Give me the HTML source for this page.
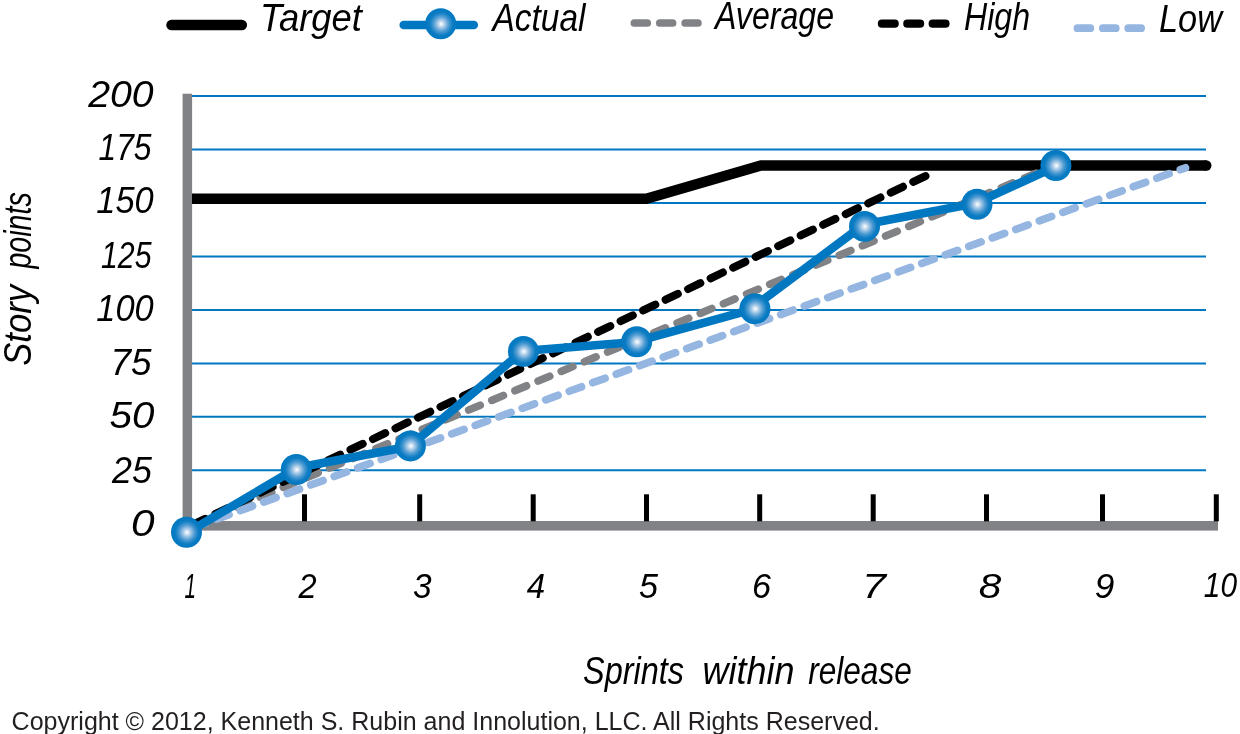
<!DOCTYPE html>
<html lang="en">
<head>
<meta charset="utf-8">
<title>Release burnup chart</title>
<style>
html,body{margin:0;padding:0;background:#fff;}
body{width:1240px;height:734px;overflow:hidden;}
svg{display:block;}
</style>
</head>
<body>
<svg width="1240" height="734" viewBox="0 0 1240 734">
<defs>
<radialGradient id="ball" cx="51.5%" cy="50.5%" r="50%">
<stop offset="0" stop-color="#ffffff"/>
<stop offset="0.05" stop-color="#eef5fb"/>
<stop offset="0.25" stop-color="#a5c8e7"/>
<stop offset="0.5" stop-color="#4c9ad2"/>
<stop offset="0.75" stop-color="#0c7cc3"/>
<stop offset="1" stop-color="#0078c1"/>
</radialGradient>
</defs>
<rect width="1240" height="734" fill="#ffffff"/>

<g stroke="#0078c1" stroke-width="2.05">
<line x1="190" y1="96.0" x2="1206" y2="96.0"/>
<line x1="190" y1="149.5" x2="1206" y2="149.5"/>
<line x1="190" y1="202.9" x2="1206" y2="202.9"/>
<line x1="190" y1="256.4" x2="1206" y2="256.4"/>
<line x1="190" y1="309.9" x2="1206" y2="309.9"/>
<line x1="190" y1="363.4" x2="1206" y2="363.4"/>
<line x1="190" y1="416.8" x2="1206" y2="416.8"/>
<line x1="190" y1="470.3" x2="1206" y2="470.3"/>
</g>
<rect x="182.6" y="93.7" width="9.5" height="436.9" fill="#808285"/>
<rect x="182.6" y="521" width="1035.4" height="9.6" fill="#808285"/>
<g fill="#000">
<rect x="302.0" y="494.3" width="5" height="27"/>
<rect x="417.2" y="494.3" width="5" height="27"/>
<rect x="530.7" y="494.3" width="5" height="27"/>
<rect x="644.0" y="494.3" width="5" height="27"/>
<rect x="757.2" y="494.3" width="5" height="27"/>
<rect x="870.7" y="494.3" width="5" height="27"/>
<rect x="984.0" y="494.3" width="5" height="27"/>
<rect x="1100.0" y="494.3" width="5" height="27"/>
<rect x="1213.8" y="494.3" width="5" height="27"/>
</g>
<polyline points="192,198.7 646.3,198.7 761,165.5 1206.3,165.5" fill="none" stroke="#000" stroke-width="10.4" stroke-linejoin="miter"/>
<circle cx="1206.3" cy="165.5" r="5.2" fill="#000"/>
<line x1="190.7" y1="526.0" x2="1052.0" y2="166.6" stroke="#808285" stroke-width="7.7" stroke-linecap="round" stroke-dasharray="12.5 12.6" stroke-dashoffset="0"/>
<line x1="192.9" y1="524.7" x2="925.8" y2="175.9" stroke="#000" stroke-width="8.0" stroke-linecap="round" stroke-dasharray="13.5 11.43" stroke-dashoffset="0"/>
<line x1="193.2" y1="527.6" x2="1185.5" y2="167.8" stroke="#94b6e1" stroke-width="7.7" stroke-linecap="round" stroke-dasharray="13.1 11.9" stroke-dashoffset="0"/>
<polyline points="186.7,533.0 297.4,467.7 409.4,446.5 522.8,351.0 632.9,342.3 748.9,310.4 863.9,224.5 975.7,203.2 1056.1,166.4" fill="none" stroke="#0078c1" stroke-width="8.6" stroke-linejoin="round"/>
<circle cx="186.5" cy="532.3" r="15.5" fill="url(#ball)"/>
<circle cx="296.3" cy="469.5" r="15.5" fill="url(#ball)"/>
<circle cx="410.4" cy="445.9" r="15.5" fill="url(#ball)"/>
<circle cx="523.4" cy="351.4" r="15.5" fill="url(#ball)"/>
<circle cx="636.7" cy="341.8" r="15.5" fill="url(#ball)"/>
<circle cx="754.9" cy="308.7" r="15.5" fill="url(#ball)"/>
<circle cx="864.5" cy="226.4" r="15.5" fill="url(#ball)"/>
<circle cx="977.0" cy="204.2" r="15.5" fill="url(#ball)"/>
<circle cx="1055.9" cy="165.5" r="15.5" fill="url(#ball)"/>
<line x1="171.5" y1="25" x2="241.8" y2="25" stroke="#000" stroke-width="10.5" stroke-linecap="round"/>
<line x1="403.7" y1="25.1" x2="473.8" y2="25.1" stroke="#0078c1" stroke-width="8.5" stroke-linecap="round"/>
<circle cx="440.7" cy="23.8" r="15.5" fill="url(#ball)"/>
<line x1="634.4" y1="23.0" x2="697.9" y2="23.0" stroke="#808285" stroke-width="7.7" stroke-linecap="round" stroke-dasharray="12.8 12.6"/>
<line x1="881.9" y1="23.7" x2="945.5" y2="23.7" stroke="#000" stroke-width="8.2" stroke-linecap="round" stroke-dasharray="12.8 12.6"/>
<line x1="1077.5" y1="28.2" x2="1141.1" y2="28.2" stroke="#94b6e1" stroke-width="7.8" stroke-linecap="round" stroke-dasharray="12.8 12.6"/>
<text x="260.0" y="31.3" font-size="38.5" font-family="'Liberation Sans', 'DejaVu Sans', sans-serif" font-style="italic" text-anchor="start" textLength="102.0" lengthAdjust="spacingAndGlyphs" fill="#000">Target</text>
<text x="492.5" y="30.5" font-size="38.5" font-family="'Liberation Sans', 'DejaVu Sans', sans-serif" font-style="italic" text-anchor="start" textLength="93.0" lengthAdjust="spacingAndGlyphs" fill="#000">Actual</text>
<text x="715.0" y="28.8" font-size="38.5" font-family="'Liberation Sans', 'DejaVu Sans', sans-serif" font-style="italic" text-anchor="start" textLength="119.0" lengthAdjust="spacingAndGlyphs" fill="#000">Average</text>
<text x="964.0" y="29.7" font-size="38.0" font-family="'Liberation Sans', 'DejaVu Sans', sans-serif" font-style="italic" text-anchor="start" textLength="66.0" lengthAdjust="spacingAndGlyphs" fill="#000">High</text>
<text x="1159.0" y="32.2" font-size="38.0" font-family="'Liberation Sans', 'DejaVu Sans', sans-serif" font-style="italic" text-anchor="start" textLength="63.0" lengthAdjust="spacingAndGlyphs" fill="#000">Low</text>
<text x="88.2" y="107.0" font-size="36.0" font-family="'Liberation Sans', 'DejaVu Sans', sans-serif" font-style="italic" text-anchor="start" textLength="65.5" lengthAdjust="spacingAndGlyphs" fill="#000">200</text>
<text x="98.5" y="160.0" font-size="36.0" font-family="'Liberation Sans', 'DejaVu Sans', sans-serif" font-style="italic" text-anchor="start" textLength="53.0" lengthAdjust="spacingAndGlyphs" fill="#000">175</text>
<text x="96.3" y="212.6" font-size="36.0" font-family="'Liberation Sans', 'DejaVu Sans', sans-serif" font-style="italic" text-anchor="start" textLength="57.4" lengthAdjust="spacingAndGlyphs" fill="#000">150</text>
<text x="101.0" y="267.7" font-size="36.0" font-family="'Liberation Sans', 'DejaVu Sans', sans-serif" font-style="italic" text-anchor="start" textLength="50.5" lengthAdjust="spacingAndGlyphs" fill="#000">125</text>
<text x="96.3" y="321.2" font-size="36.0" font-family="'Liberation Sans', 'DejaVu Sans', sans-serif" font-style="italic" text-anchor="start" textLength="57.4" lengthAdjust="spacingAndGlyphs" fill="#000">100</text>
<text x="110.5" y="374.9" font-size="36.0" font-family="'Liberation Sans', 'DejaVu Sans', sans-serif" font-style="italic" text-anchor="start" textLength="41.0" lengthAdjust="spacingAndGlyphs" fill="#000">75</text>
<text x="109.6" y="428.2" font-size="36.0" font-family="'Liberation Sans', 'DejaVu Sans', sans-serif" font-style="italic" text-anchor="start" textLength="44.8" lengthAdjust="spacingAndGlyphs" fill="#000">50</text>
<text x="112.0" y="483.3" font-size="36.0" font-family="'Liberation Sans', 'DejaVu Sans', sans-serif" font-style="italic" text-anchor="start" textLength="39.8" lengthAdjust="spacingAndGlyphs" fill="#000">25</text>
<text x="131.0" y="535.5" font-size="36.0" font-family="'Liberation Sans', 'DejaVu Sans', sans-serif" font-style="italic" text-anchor="start" textLength="23.6" lengthAdjust="spacingAndGlyphs" fill="#000">0</text>
<text x="184.5" y="597.5" font-size="35.0" font-family="'Liberation Sans', 'DejaVu Sans', sans-serif" font-style="italic" text-anchor="start" textLength="11.5" lengthAdjust="spacingAndGlyphs" fill="#000">1</text>
<text x="298.4" y="597.7" font-size="35.0" font-family="'Liberation Sans', 'DejaVu Sans', sans-serif" font-style="italic" text-anchor="start" textLength="18.1" lengthAdjust="spacingAndGlyphs" fill="#000">2</text>
<text x="413.0" y="598.0" font-size="35.0" font-family="'Liberation Sans', 'DejaVu Sans', sans-serif" font-style="italic" text-anchor="start" textLength="18.6" lengthAdjust="spacingAndGlyphs" fill="#000">3</text>
<text x="526.8" y="598.0" font-size="35.0" font-family="'Liberation Sans', 'DejaVu Sans', sans-serif" font-style="italic" text-anchor="start" textLength="18.4" lengthAdjust="spacingAndGlyphs" fill="#000">4</text>
<text x="639.0" y="598.0" font-size="35.0" font-family="'Liberation Sans', 'DejaVu Sans', sans-serif" font-style="italic" text-anchor="start" textLength="19.0" lengthAdjust="spacingAndGlyphs" fill="#000">5</text>
<text x="752.0" y="598.0" font-size="35.0" font-family="'Liberation Sans', 'DejaVu Sans', sans-serif" font-style="italic" text-anchor="start" textLength="19.0" lengthAdjust="spacingAndGlyphs" fill="#000">6</text>
<text x="862.0" y="598.0" font-size="35.0" font-family="'Liberation Sans', 'DejaVu Sans', sans-serif" font-style="italic" text-anchor="start" textLength="24.0" lengthAdjust="spacingAndGlyphs" fill="#000">7</text>
<text x="978.7" y="597.5" font-size="35.0" font-family="'Liberation Sans', 'DejaVu Sans', sans-serif" font-style="italic" text-anchor="start" textLength="22.6" lengthAdjust="spacingAndGlyphs" fill="#000">8</text>
<text x="1094.8" y="598.0" font-size="35.0" font-family="'Liberation Sans', 'DejaVu Sans', sans-serif" font-style="italic" text-anchor="start" textLength="19.6" lengthAdjust="spacingAndGlyphs" fill="#000">9</text>
<text x="1203.8" y="597.0" font-size="35.0" font-family="'Liberation Sans', 'DejaVu Sans', sans-serif" font-style="italic" text-anchor="start" textLength="33.2" lengthAdjust="spacingAndGlyphs" fill="#000">10</text>
<text y="683.6" font-size="39.5" font-family="'Liberation Sans', 'DejaVu Sans', sans-serif" font-style="italic" fill="#000"><tspan x="583.0" textLength="101.0" lengthAdjust="spacingAndGlyphs">Sprints</tspan> <tspan x="702.5" textLength="92.0" lengthAdjust="spacingAndGlyphs">within</tspan> <tspan x="808.2" textLength="103.6" lengthAdjust="spacingAndGlyphs">release</tspan></text>
<g transform="translate(30.5,365.8) rotate(-90)">
<text y="0.0" font-size="39.5" font-family="'Liberation Sans', 'DejaVu Sans', sans-serif" font-style="italic" fill="#000"><tspan x="0.0" textLength="81.0" lengthAdjust="spacingAndGlyphs">Story</tspan> <tspan x="97.2" textLength="76.3" lengthAdjust="spacingAndGlyphs">points</tspan></text>
</g>
<text x="11.6" y="729.8" font-size="25.03" font-family="'Liberation Sans', sans-serif" fill="#231f20">Copyright © 2012, Kenneth S. Rubin and Innolution, LLC. All Rights Reserved.</text>
</svg>
</body>
</html>
